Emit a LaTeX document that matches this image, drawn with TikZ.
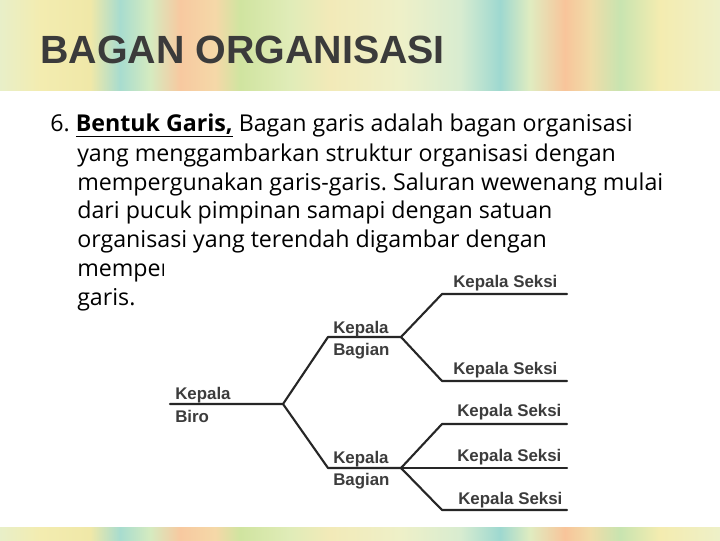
\documentclass[tikz,border=0pt]{standalone}
\usepackage{fontspec}
\setmainfont{Open Sans}
\newfontfamily\arialfont{Liberation Sans}
\usetikzlibrary{positioning}
\frenchspacing
\definecolor{judul}{RGB}{59,59,59}
\definecolor{tinta}{RGB}{60,60,60}
\definecolor{w0}{RGB}{232,239,200}
\definecolor{w1}{RGB}{243,236,176}
\definecolor{w2}{RGB}{240,232,168}
\definecolor{w3}{RGB}{168,220,207}
\definecolor{w4}{RGB}{213,235,192}
\definecolor{w5}{RGB}{247,201,160}
\definecolor{w6}{RGB}{245,216,168}
\definecolor{w7}{RGB}{208,228,160}
\definecolor{w8}{RGB}{224,236,184}
\definecolor{w9}{RGB}{242,234,184}
\definecolor{w10}{RGB}{238,240,200}
\definecolor{w11}{RGB}{216,236,208}
\definecolor{w12}{RGB}{158,216,208}
\definecolor{w13}{RGB}{224,236,192}
\definecolor{w14}{RGB}{248,196,154}
\definecolor{w15}{RGB}{240,220,168}
\definecolor{w16}{RGB}{200,228,176}
\definecolor{w17}{RGB}{244,236,176}
\definecolor{w18}{RGB}{238,240,200}
\tikzstyle{garis}=[line width=1.5pt, black!85,
                   line cap=round, line join=round]
\tikzstyle{teks}=[inner sep=0pt, anchor=base west,
                  font=\fontsize{16.5}{19}\selectfont]
\tikzstyle{jabatan}=[inner sep=0pt, anchor=base west, text=tinta,
                     font=\arialfont\bfseries\fontsize{12}{14}\selectfont]

\begin{document}
\begin{tikzpicture}[x=0.025cm, y=-0.025cm]
    \useasboundingbox (0,0) rectangle (720,540);
    \fill[white] (0,0) rectangle (720,540);

    \foreach \xa/\ca/\xb/\cb in {0/w0/40/w1, 40/w1/90/w2, 90/w2/120/w3,
    120/w3/150/w4, 150/w4/180/w5, 180/w5/215/w6, 215/w6/240/w7,
    240/w7/290/w8, 290/w8/330/w9, 330/w9/400/w10, 400/w10/460/w11,
    460/w11/500/w12, 500/w12/530/w13, 530/w13/565/w14, 565/w14/590/w15,
    590/w15/620/w16, 620/w16/660/w17, 660/w17/720/w18}
    {
        \shade[left color=\ca, right color=\cb] (\xa,0) rectangle (\xb,90);
        \shade[left color=\ca, right color=\cb] (\xa,527) rectangle (\xb,540);
    }

    \node[anchor=base west, inner sep=0pt, text=judul,
          font=\arialfont\bfseries\fontsize{28}{30}\selectfont] (judul) at (40,63) {BAGAN ORGANISASI};

    \node[teks] (l1) at (50,131) {6. \underline{\textbf{Bentuk Garis,}} Bagan garis adalah bagan organisasi};
    \foreach \i/\y/\t in {2/161/{yang menggambarkan struktur organisasi dengan},
    3/190/{mempergunakan garis-garis. Saluran wewenang mulai},
    4/218/{dari pucuk pimpinan samapi dengan satuan},
    5/247/{organisasi yang terendah digambar dengan},
    7/305/{garis.}}
        \node[teks] (l\i) at (77,\y) {\t};
    \begin{scope}
        \clip (0,250) rectangle (163,290);
        \node[teks] (l6) at (77,276) {memper};
    \end{scope}

    \coordinate (biro) at (170,404);
    \coordinate (j0) at (283,404);
    \coordinate (b1) at (328,337);
    \coordinate (j1) at (401,337);
    \coordinate (b2) at (328,468);
    \coordinate (j2) at (401,468);
    \coordinate (s1) at (442,294);
    \coordinate (e1) at (567,294);
    \coordinate (s2) at (442,381);
    \coordinate (e2) at (567,381);
    \coordinate (s3) at (442,424);
    \coordinate (e3) at (567,424);
    \coordinate (e4) at (567,468);
    \coordinate (s5) at (442,510);
    \coordinate (e5) at (567,510);

    \draw[garis] (biro) -- (j0) -- (b1) -- (j1);
    \draw[garis] (j0) -- (b2) -- (j2);
    \foreach \a/\b/\c in {j1/s1/e1, j1/s2/e2, j2/s3/e3, j2/s5/e5}
        \draw[garis] (\a) -- (\b) -- (\c);
    \draw[garis] (j2) -- (e4);

    \node[jabatan] (kbiro) at (175,399) {Kepala};
    \node[jabatan] (nbiro) at (175,422) {Biro};
    \node[jabatan] (kbag1) at (333,333) {Kepala};
    \node[jabatan] (nbag1) at (333,355) {Bagian};
    \node[jabatan] (kbag2) at (333,463) {Kepala};
    \node[jabatan] (nbag2) at (333,485) {Bagian};
    \foreach \i/\x/\y in {1/453/287, 2/453/374, 3/457/416, 4/457/461, 5/458/504}
        \node[jabatan] (seksi\i) at (\x,\y) {Kepala Seksi};
\end{tikzpicture}
\end{document}
